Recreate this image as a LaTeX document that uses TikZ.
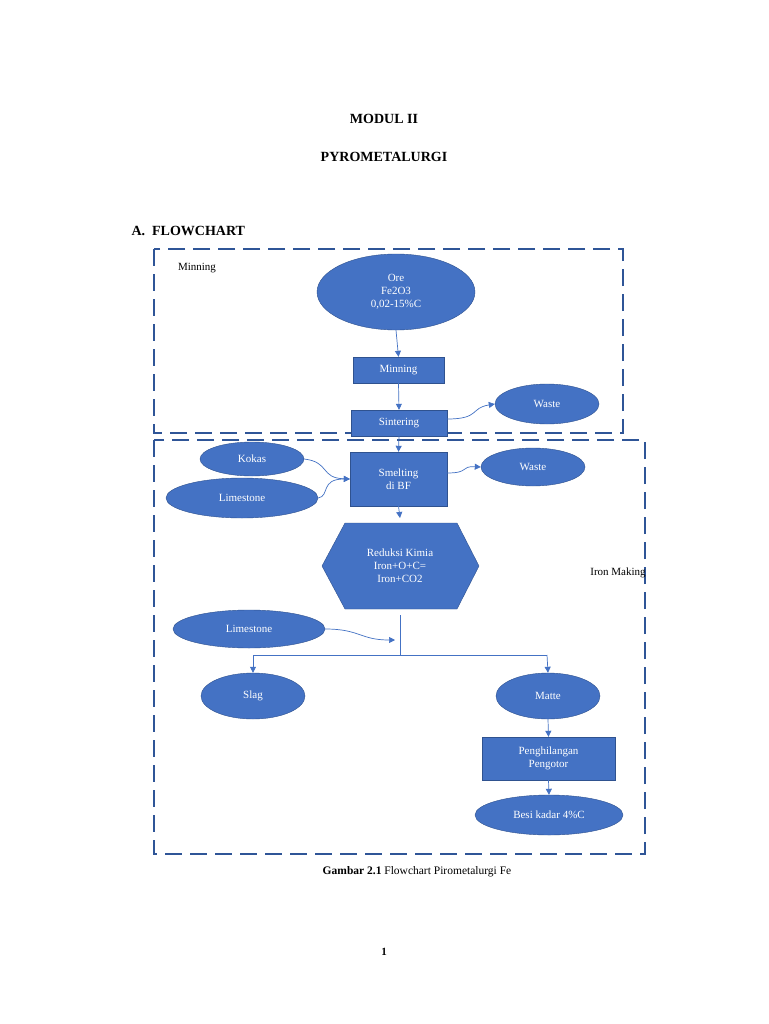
\documentclass[tikz,border=0pt]{standalone}
\usepackage{fontspec}
\setmainfont{Liberation Serif}
\usetikzlibrary{shapes.geometric,arrows.meta}
\definecolor{fillb}{HTML}{4472C4}
\definecolor{edgeb}{HTML}{2F528F}
\definecolor{dashb}{HTML}{2F5597}
\begin{document}
\begin{tikzpicture}[x=1pt,y=-1pt,
  box/.style={draw=dashb,line width=2.6pt,dash pattern=on 17pt off 8pt},
  el/.style={ellipse,draw=edgeb,fill=fillb,text=white,font=\fontsize{11}{13}\selectfont,inner sep=0pt,align=center},
  rc/.style={rectangle,draw=edgeb,fill=fillb,text=white,font=\fontsize{11}{13}\selectfont,inner sep=0pt,align=center},
  ar/.style={draw=fillb,line width=0.7pt,-{Triangle[length=6pt,width=6pt]}},
  ln/.style={draw=fillb,line width=0.7pt}]
\useasboundingbox[fill=white] (0,0) rectangle (768,1024);
\node[font=\fontsize{14}{16}\selectfont\bfseries] (t1) at (384,119) {MODUL II};
\node[font=\fontsize{14}{16}\selectfont\bfseries] (t2) at (384,157) {PYROMETALURGI};
\node[font=\fontsize{14}{16}\selectfont\bfseries,anchor=west] (t3) at (128,231) {A.\ \ FLOWCHART};
\draw[box] (154,249) rectangle (623,433);
\draw[box] (154,440) rectangle (645,854);
\node[font=\fontsize{11}{13}\selectfont] (lm) at (197,268) {Minning};
\node[font=\fontsize{11}{13}\selectfont] (li) at (618,573) {Iron Making};
\node[el,minimum width=158pt,minimum height=76pt] (ore) at (396,292) {Ore\\Fe2O3\\0,02-15\%C};
\node[rc,minimum width=91pt,minimum height=26pt] (min) at (398.5,370) {Minning};
\node[rc,minimum width=96pt,minimum height=26pt] (sin) at (399,423) {Sintering};
\node[el,minimum width=104pt,minimum height=40pt] (w1) at (547,404) {Waste};
\node[el,minimum width=104pt,minimum height=34pt] (kok) at (252,459) {Kokas};
\node[el,minimum width=152pt,minimum height=40pt] (lim) at (242,498) {Limestone};
\node[rc,minimum width=97pt,minimum height=54pt] (sme) at (398.5,479) {Smelting\\di BF};
\node[el,minimum width=104pt,minimum height=38pt] (w2) at (533,467) {Waste};
\node[regular polygon,regular polygon sides=6,draw=edgeb,fill=fillb,minimum width=0pt,inner sep=0pt,
  text=white,font=\fontsize{11}{13}\selectfont,align=center,xscale=1,yscale=1,
  shape border rotate=0,minimum size=0pt] (hexdummy) at (400,566) {};
\path[draw=edgeb,fill=fillb] (345,523) -- (457,523) -- (479,566) -- (457,609) -- (345,609) -- (322,566) -- cycle;
\node[font=\fontsize{11}{13}\selectfont,text=white,align=center] (red) at (400,566) {Reduksi Kimia\\Iron+O+C=\\Iron+CO2};
\node[el,minimum width=152pt,minimum height=38pt] (lim2) at (249,629) {Limestone};
\node[el,minimum width=104pt,minimum height=46pt] (slag) at (253,696) {Slag};
\node[el,minimum width=104pt,minimum height=46pt] (mat) at (548,696) {Matte};
\node[rc,minimum width=133pt,minimum height=43pt] (pen) at (548.5,758.5) {Penghilangan\\Pengotor};
\node[el,minimum width=148pt,minimum height=40pt] (bes) at (549,815) {Besi kadar 4\%C};
\coordinate (j1) at (400,615);
\coordinate (j2) at (400,655);
\coordinate (jl) at (253,655);
\coordinate (jr) at (547,655);
\coordinate (la) at (395,640);
\draw[ar] (ore.south) -- (min.north);
\draw[ar] (min.south) -- (sin.north);
\draw[ar] (sin.south) -- (sme.north);
\draw[ar] (sme.south) -- (400,518);
\draw[ar] (sin.east) ++(0,-4) .. controls (480,419) and (470,408) .. (w1.west);
\draw[ar] (sme.east) ++(0,-6) .. controls (470,473) and (460,466) .. (w2.west);
\draw[ar] (kok.east) .. controls (330,462) and (320,478) .. (sme.west);
\draw[ar] (lim.east) .. controls (330,496) and (320,479) .. (sme.west);
\draw[ar] (lim2.east) .. controls (360,629) and (360,640) .. (la);
\draw[ln] (j1) -- (j2);
\draw[ln] (jl) -- (jr);
\draw[ar] (jl) -- (slag.north);
\draw[ar] (jr) -- (mat.north);
\draw[ar] (mat.south) -- (pen.north);
\draw[ar] (pen.south) -- (bes.north);
\node[font=\fontsize{11.5}{13}\selectfont] (cap) at (417,872) {\textbf{Gambar 2.1} Flowchart Pirometalurgi Fe};
\node[font=\fontsize{11}{13}\selectfont\bfseries] (pg) at (384,952) {1};
\end{tikzpicture}
\end{document}
